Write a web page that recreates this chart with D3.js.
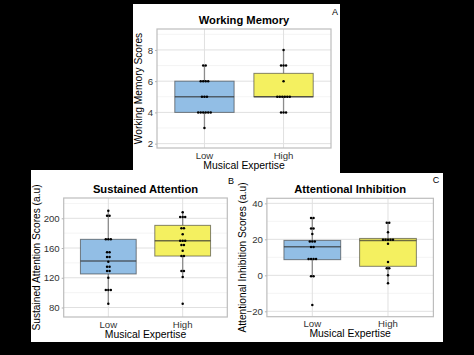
<!DOCTYPE html>
<html><head><meta charset="utf-8">
<script src="https://cdn.jsdelivr.net/npm/d3@7/dist/d3.min.js"></script>
<style>html,body{margin:0;padding:0;background:#000;}svg{display:block;}</style>
</head><body>
<script>
// ---------- data ----------
const categories = ["Low", "High"];

// Working Memory (panel A)
const wmBox = { q1: [4, 5], median: [5, 5], q3: [6, 6.5], whiskerLow: [3, 4], whiskerHigh: [7, 8] };
const wmDotsLow  = [3, 4,4,4,4,4,4, 5,5,5, 6,6,6,6, 7,7];
const wmDotsHigh = [4,4,4, 5,5,5,5,5,5, 6, 7,7,7, 8];
const wmTicks = [2, 4, 6, 8];
const wmMinor = [3, 5, 7, 9];

// Sustained Attention (panel B)
const saBox = { q1: [125.1, 149.2], median: [142.7, 169.8], q3: [171.7, 190.5], whiskerLow: [85, 121], whiskerHigh: [210, 208] };
const saDotsLow  = [210, 203.5,203.5, 171.7,171.7,171.7, 154.2,154.2, 147.9,147.9, 141.6, 134.8,134.8, 129,129, 120, 103.4,103.4,103.4, 85];
const saDotsHigh = [208, 201.8,201.8,201.8, 186.5,186.5, 178.4, 169.8,169.8,169.8, 164,164, 156.4, 149.2,149.2, 129,129, 121, 85];
const saTicks = [80, 120, 160, 200];
const saMinor = [100, 140, 180, 220];

// Attentional Inhibition (panel C)
const aiBox = { q1: [8.7, 5], median: [15.9, 19.3], q3: [19.4, 20.5], whiskerLow: [-0.5, -4.4], whiskerHigh: [31.8, 29.2] };
const aiDotsLow  = [31.8,31.8, 26,26, 22.9, 18.8,18.8,18.8, 15.8,15.8, 9,9,9,9, -0.5,-0.5, -16.5];
const aiDotsHigh = [29.2,29.2, 23.9, 19.8,19.8,19.8,19.8,19.8, 17.6, 7.4, 3.9,3.9, 0, -4.4];
const aiTicks = [-20, 0, 20, 40];
const aiMinor = [-10, 10, 30];

// ---------- layout / style ----------
const W = 474, H = 355;
const FONT = "'Liberation Sans', Arial, Helvetica, sans-serif";
const fills = ["#92BEE5", "#F4F060"];

const svg = d3.select("body").append("svg").attr("width", W).attr("height", H);
svg.append("rect").attr("width", W).attr("height", H).attr("fill", "#000");
// white figure panels
svg.append("rect").attr("x", 133).attr("y", 4).attr("width", 207).attr("height", 170).attr("fill", "#fff");
svg.append("rect").attr("x", 31).attr("y", 170).attr("width", 210).attr("height", 172).attr("fill", "#fff");
svg.append("rect").attr("x", 236).attr("y", 173).attr("width", 207).attr("height", 169).attr("fill", "#fff");

function panel(cfg) {
  const g = svg.append("g");
  // ggplot discrete: centers at 0.6 and 1.6 units within 2.2 units
  const x = d3.scalePoint().domain(categories).range([cfg.x0, cfg.x1]).padding(0.6 / 1.0 * 1);
  const unit = (cfg.x1 - cfg.x0) / 2.2;
  const cx = c => x(c);
  const y = d3.scaleLinear().domain(cfg.yDomain).range([cfg.y1, cfg.y0]);

  // panel background gridlines
  g.selectAll(".minor").data(cfg.minor).join("line")
    .attr("x1", cfg.x0).attr("x2", cfg.x1).attr("y1", d => y(d)).attr("y2", d => y(d))
    .attr("stroke", "#ececec").attr("stroke-width", 0.6);
  g.selectAll(".major").data(cfg.ticks).join("line")
    .attr("x1", cfg.x0).attr("x2", cfg.x1).attr("y1", d => y(d)).attr("y2", d => y(d))
    .attr("stroke", "#e0e0e0").attr("stroke-width", 1);
  g.selectAll(".vmajor").data(categories).join("line")
    .attr("x1", d => cx(d)).attr("x2", d => cx(d)).attr("y1", cfg.y0).attr("y2", cfg.y1)
    .attr("stroke", "#e0e0e0").attr("stroke-width", 1);

  const bw = unit * 0.75;
  const b = cfg.box;
  categories.forEach((c, i) => {
    const xc = cx(c);
    // whiskers
    g.append("line").attr("x1", xc).attr("x2", xc).attr("y1", y(b.q3[i])).attr("y2", y(b.whiskerHigh[i]))
      .attr("stroke", "#8c8c8c").attr("stroke-width", 1.3);
    g.append("line").attr("x1", xc).attr("x2", xc).attr("y1", y(b.q1[i])).attr("y2", y(b.whiskerLow[i]))
      .attr("stroke", "#8c8c8c").attr("stroke-width", 1.3);
    // box
    g.append("rect").attr("x", xc - bw / 2).attr("width", bw)
      .attr("y", y(b.q3[i])).attr("height", y(b.q1[i]) - y(b.q3[i]))
      .attr("fill", fills[i]).attr("stroke", "#333").attr("stroke-opacity", 0.6).attr("stroke-width", 1);
    // median
    g.append("line").attr("x1", xc - bw / 2).attr("x2", xc + bw / 2)
      .attr("y1", y(b.median[i])).attr("y2", y(b.median[i]))
      .attr("stroke", "#333").attr("stroke-opacity", 0.7).attr("stroke-width", 1.5);
    // dots (centered stacks)
    const vals = cfg.dots[i];
    const counts = d3.rollups(vals, v => v.length, d => d);
    const r = 1.25;
    counts.forEach(([v, n]) => {
      for (let k = 0; k < n; k++) {
        g.append("circle").attr("cx", xc + (k - (n - 1) / 2) * 2 * r).attr("cy", y(v)).attr("r", r).attr("fill", "#000");
      }
    });
  });

  // panel border
  g.append("rect").attr("x", cfg.x0).attr("y", cfg.y0).attr("width", cfg.x1 - cfg.x0).attr("height", cfg.y1 - cfg.y0)
    .attr("fill", "none").attr("stroke", "#bdbdbd").attr("stroke-width", 1.2);

  // axes
  const ya = g.append("g").attr("transform", `translate(${cfg.x0},0)`)
    .call(d3.axisLeft(y).tickValues(cfg.ticks).tickSize(2).tickPadding(2));
  ya.select(".domain").remove();
  ya.selectAll("line").attr("stroke", "#b3b3b3");
  ya.selectAll("text").attr("font-family", FONT).attr("font-size", 9.6).attr("fill", "#333");

  const xa = g.append("g").attr("transform", `translate(0,${cfg.y1})`);
  xa.selectAll("text").data(categories).join("text")
    .attr("x", d => cx(d)).attr("y", 10.5).attr("text-anchor", "middle")
    .attr("font-family", FONT).attr("font-size", 9.6).attr("fill", "#333").text(d => d);

  // titles
  g.append("text").attr("x", (cfg.x0 + cfg.x1) / 2).attr("y", cfg.y0 - 5).attr("text-anchor", "middle")
    .attr("font-family", FONT).attr("font-weight", "bold").attr("font-size", 11.2).attr("fill", "#000").text(cfg.title);
  g.append("text").attr("x", (cfg.x0 + cfg.x1) / 2).attr("y", cfg.y1 + 20.5).attr("text-anchor", "middle")
    .attr("font-family", FONT).attr("font-size", 10.4).attr("fill", "#000").text("Musical Expertise");
  g.append("text").attr("transform", `translate(${cfg.ytx},${(cfg.y0 + cfg.y1) / 2}) rotate(-90)`)
    .attr("text-anchor", "middle").attr("font-family", FONT).attr("font-size", 10.2).attr("fill", "#000").text(cfg.ytitle);
  g.append("text").attr("x", cfg.lx).attr("y", cfg.ly).attr("text-anchor", "middle")
    .attr("font-family", FONT).attr("font-size", 9).attr("fill", "#000").text(cfg.letter);
}

panel({ x0: 157, x1: 331, y0: 29, y1: 148, yDomain: [1.72, 9.34], ticks: wmTicks, minor: wmMinor,
  box: wmBox, dots: [wmDotsLow, wmDotsHigh], title: "Working Memory", ytitle: "Working Memory Scores",
  ytx: 141.5, letter: "A", lx: 335, ly: 15 });
panel({ x0: 63.7, x1: 227.3, y0: 198, y1: 317, yDomain: [67.2, 227.3], ticks: saTicks, minor: saMinor,
  box: saBox, dots: [saDotsLow, saDotsHigh], title: "Sustained Attention", ytitle: "Sustained Attention Scores (a.u)",
  ytx: 40, letter: "B", lx: 231, ly: 184 });
panel({ x0: 266.9, x1: 433.4, y0: 198.3, y1: 316.7, yDomain: [-23, 42.8], ticks: aiTicks, minor: aiMinor,
  box: aiBox, dots: [aiDotsLow, aiDotsHigh], title: "Attentional Inhibition", ytitle: "Attentional Inhibition Scores (a.u)",
  ytx: 246, letter: "C", lx: 436, ly: 183 });
</script>
</body></html>
